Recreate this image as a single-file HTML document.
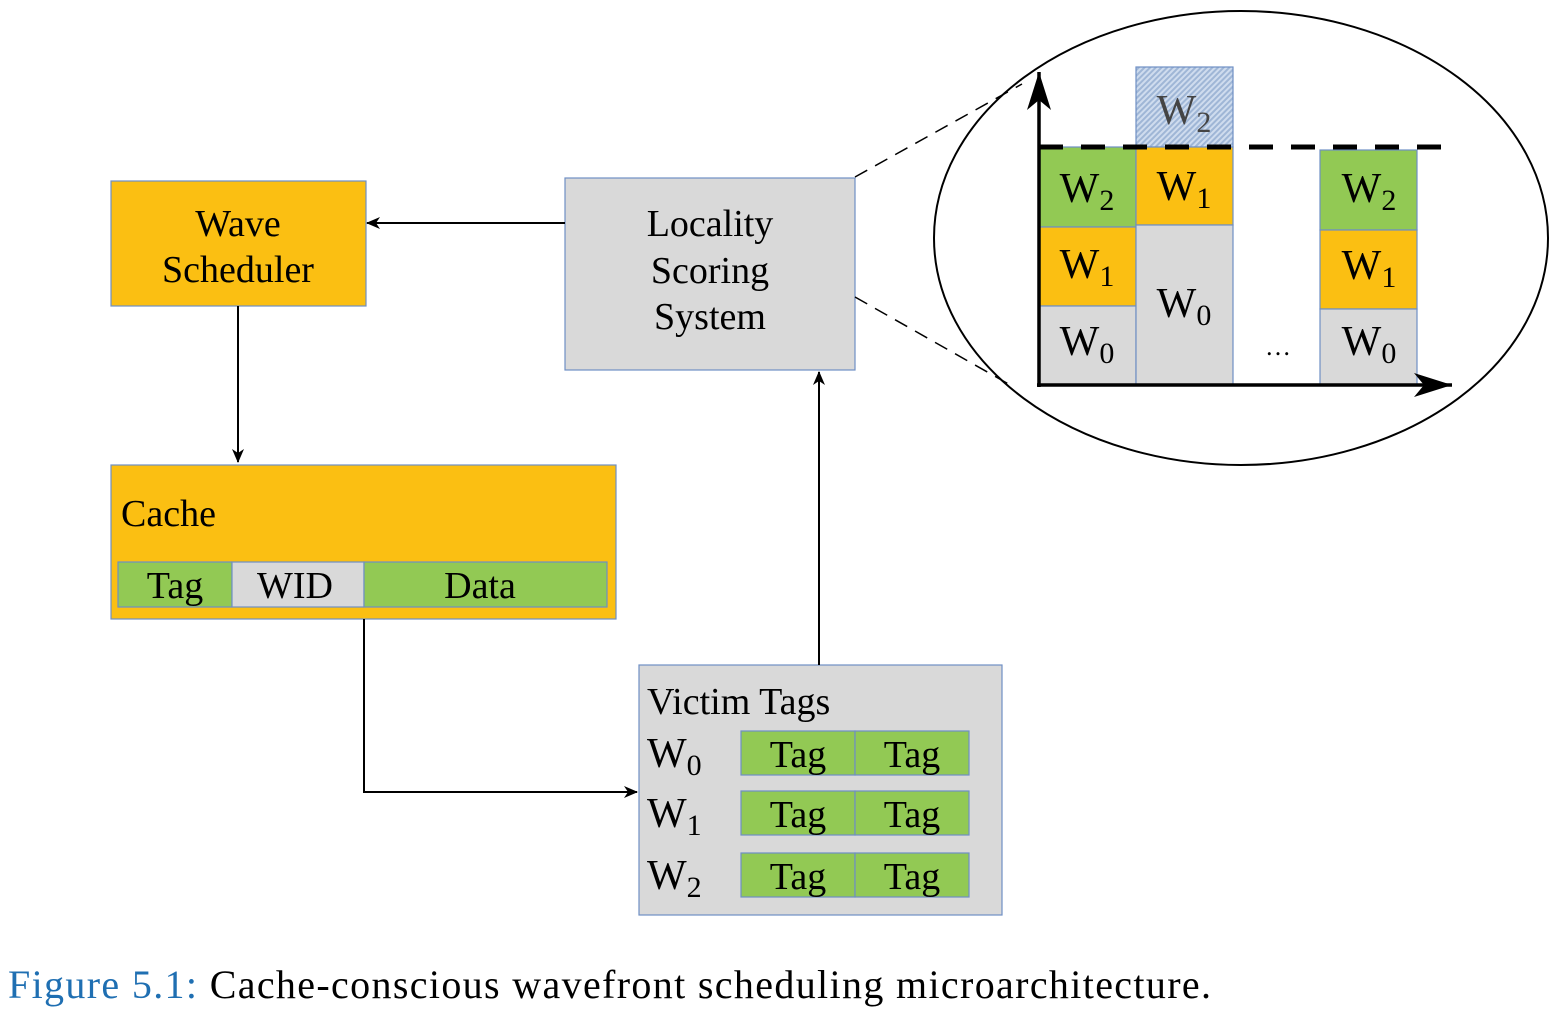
<!DOCTYPE html>
<html><head><style>body{margin:0;background:#fff}svg{display:block}text{font-family:"Liberation Serif","DejaVu Serif",serif;fill:#000}</style></head><body>
<svg width="1566" height="1021" viewBox="0 0 1566 1021" xmlns="http://www.w3.org/2000/svg" font-family="Liberation Serif, DejaVu Serif, serif">
<defs>
<marker id="a" markerWidth="14" markerHeight="12" refX="13" refY="6" orient="auto" markerUnits="userSpaceOnUse"><path d="M0,0 L14,6 L0,12 L4,6 Z" fill="#000"/></marker>
<marker id="b" markerWidth="40" markerHeight="24" refX="38" refY="12" orient="auto" markerUnits="userSpaceOnUse"><path d="M0,0 L38,12 L0,24 L10,12 Z" fill="#000"/></marker>
<pattern id="h" width="4" height="4" patternUnits="userSpaceOnUse" patternTransform="rotate(45)"><rect width="4" height="4" fill="#cfdcee"/><rect width="2" height="4" fill="#9fb6d6"/></pattern>
</defs>
<g stroke="#6f8fc4" stroke-width="1.2">
<rect x="111" y="181" width="255" height="125" fill="#FBBF12"/>
<rect x="565" y="178" width="290" height="192" fill="#D9D9D9"/>
<rect x="111" y="465" width="505" height="154" fill="#FBBF12"/>
<rect x="118" y="562" width="114" height="45" fill="#92C954"/>
<rect x="232" y="562" width="132" height="45" fill="#D9D9D9"/>
<rect x="364" y="562" width="243" height="45" fill="#92C954"/>
<rect x="639" y="665" width="363" height="250" fill="#D9D9D9"/>
<rect x="741" y="731" width="114" height="44" fill="#92C954"/><rect x="855" y="731" width="114" height="44" fill="#92C954"/>
<rect x="741" y="791" width="114" height="44" fill="#92C954"/><rect x="855" y="791" width="114" height="44" fill="#92C954"/>
<rect x="741" y="853" width="114" height="44" fill="#92C954"/><rect x="855" y="853" width="114" height="44" fill="#92C954"/>
</g>
<g font-size="38" text-anchor="middle">
<text x="238" y="236">Wave</text><text x="238" y="282">Scheduler</text>
<text x="710" y="236">Locality</text><text x="710" y="283">Scoring</text><text x="710" y="329">System</text>
<text x="175" y="598">Tag</text><text x="295" y="598">WID</text><text x="480" y="598">Data</text>
<text x="798" y="767">Tag</text><text x="912" y="767">Tag</text>
<text x="798" y="827">Tag</text><text x="912" y="827">Tag</text>
<text x="798" y="889">Tag</text><text x="912" y="889">Tag</text>
</g>
<text x="121" y="526" font-size="38">Cache</text>
<text x="647" y="714" font-size="38">Victim Tags</text>
<text x="647" y="767" font-size="42">W<tspan font-size="30" dy="8">0</tspan></text>
<text x="647" y="827" font-size="42">W<tspan font-size="30" dy="8">1</tspan></text>
<text x="647" y="889" font-size="42">W<tspan font-size="30" dy="8">2</tspan></text>
<g stroke="#000" stroke-width="2" fill="none">
<line x1="565" y1="223" x2="367" y2="223" marker-end="url(#a)"/>
<line x1="238" y1="306" x2="238" y2="462" marker-end="url(#a)"/>
<polyline points="364,619 364,792 637,792" marker-end="url(#a)"/>
<line x1="819" y1="665" x2="819" y2="372" marker-end="url(#a)"/>
</g>
<ellipse cx="1241" cy="238" rx="307" ry="227" fill="#fff" stroke="#000" stroke-width="2"/>
<g stroke="#000" stroke-width="1.5" stroke-dasharray="14,9">
<line x1="855" y1="177" x2="1022" y2="84"/>
<line x1="855" y1="297" x2="1012" y2="386"/>
</g>
<g stroke="#6f8fc4" stroke-width="1.2">
<rect x="1136" y="67" width="97" height="80" fill="url(#h)"/>
<rect x="1039" y="147" width="97" height="80" fill="#92C954"/>
<rect x="1039" y="227" width="97" height="79" fill="#FBBF12"/>
<rect x="1039" y="306" width="97" height="79" fill="#D9D9D9"/>
<rect x="1136" y="147" width="97" height="78" fill="#FBBF12"/>
<rect x="1136" y="225" width="97" height="160" fill="#D9D9D9"/>
<rect x="1320" y="150" width="97" height="80" fill="#92C954"/>
<rect x="1320" y="230" width="97" height="79" fill="#FBBF12"/>
<rect x="1320" y="309" width="97" height="76" fill="#D9D9D9"/>
</g>
<g font-size="42" text-anchor="middle">
<text x="1184" y="124" style="fill:#444">W<tspan font-size="30" dy="8">2</tspan></text>
<text x="1087" y="202">W<tspan font-size="30" dy="8">2</tspan></text>
<text x="1087" y="278">W<tspan font-size="30" dy="8">1</tspan></text>
<text x="1087" y="355">W<tspan font-size="30" dy="8">0</tspan></text>
<text x="1184" y="200">W<tspan font-size="30" dy="8">1</tspan></text>
<text x="1184" y="317">W<tspan font-size="30" dy="8">0</tspan></text>
<text x="1369" y="202">W<tspan font-size="30" dy="8">2</tspan></text>
<text x="1369" y="279">W<tspan font-size="30" dy="8">1</tspan></text>
<text x="1369" y="355">W<tspan font-size="30" dy="8">0</tspan></text>
<text x="1278" y="355" font-size="26">…</text>
</g>
<line x1="1039" y1="147" x2="1442" y2="147" stroke="#000" stroke-width="5" stroke-dasharray="24,18"/>
<g stroke="#000" stroke-width="3.5" fill="none">
<line x1="1039" y1="387" x2="1039" y2="72" marker-end="url(#b)"/>
<line x1="1037" y1="385" x2="1452" y2="385" marker-end="url(#b)"/>
</g>
<text x="8" y="998" font-size="40" textLength="1203" lengthAdjust="spacing"><tspan style="fill:#1F6FB2">Figure 5.1:</tspan> Cache-conscious wavefront scheduling microarchitecture.</text>
</svg>
</body></html>
